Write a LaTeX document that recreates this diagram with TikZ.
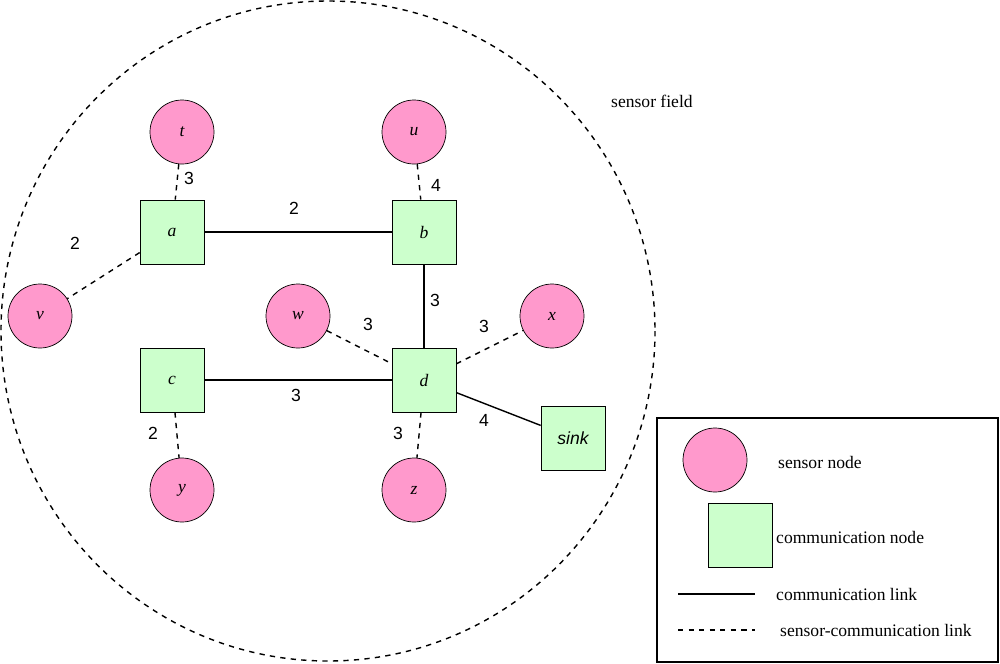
\documentclass[tikz,border=0pt]{standalone}
\usepackage{fontspec}
\setmainfont{Liberation Serif}
\newfontfamily\numfont{Liberation Sans}
\begin{document}
\begin{tikzpicture}[x=0.02cm,y=-0.02cm,
  sensor/.style={circle,draw,fill=pink1,minimum size=64*0.02cm,inner sep=0pt,font=\itshape},
  comm/.style={rectangle,draw,fill=green1,minimum size=64*0.02cm,inner sep=0pt,font=\itshape},
  clink/.style={draw,thick},
  slink/.style={draw,thick,dashed},
  num/.style={font=\numfont}]
\definecolor{pink1}{HTML}{FF99CC}
\definecolor{green1}{HTML}{CCFFCC}
\useasboundingbox (0,0) rectangle (1000,663);
% sensor field
\draw[thick,dashed] (328,331) ellipse [x radius=327,y radius=330];
\node[anchor=west] (field) at (605,101) {sensor field};
% nodes
\node[sensor] (t) at (182,132) {t};
\node[sensor] (u) at (414,132) {u};
\node[sensor] (v) at (40,316) {v};
\node[sensor] (w) at (298,316) {w};
\node[sensor] (x) at (552,316) {x};
\node[sensor] (y) at (182,490) {y};
\node[sensor] (z) at (414,490) {z};
\node[comm] (a) at (172,232) {a};
\node[comm] (b) at (424,232) {b};
\node[comm] (c) at (172,380) {c};
\node[comm] (d) at (424,380) {d};
\node[comm,font=\numfont\itshape] (sink) at (573,438) {sink};
% links
\draw[clink] (a) -- (b);
\draw[clink] (b) -- (d);
\draw[clink] (c) -- (d);
\draw[clink] (d) -- (sink);
\draw[slink] (t) -- (a);
\draw[slink] (u) -- (b);
\draw[slink] (a) -- (v);
\draw[slink] (w) -- (d);
\draw[slink] (d) -- (x);
\draw[slink] (c) -- (y);
\draw[slink] (d) -- (z);
% weights
\node[num] (l1) at (189,178) {3};
\node[num] (l2) at (436,185) {4};
\node[num] (l3) at (75,243) {2};
\node[num] (l4) at (294,208) {2};
\node[num] (l5) at (435,300) {3};
\node[num] (l6) at (368,324) {3};
\node[num] (l7) at (484,326) {3};
\node[num] (l8) at (296,395) {3};
\node[num] (l9) at (484,420) {4};
\node[num] (l10) at (153,433) {2};
\node[num] (l11) at (398,433) {3};
% legend
\draw[thick] (657,418) rectangle (998,662);
\node[sensor] (ls) at (715,460) {};
\node[comm] (lc) at (740,535) {};
\coordinate (cl1) at (678,594);
\coordinate (cl2) at (755,594);
\coordinate (sl1) at (678,630);
\coordinate (sl2) at (755,630);
\draw[clink] (cl1) -- (cl2);
\draw[slink] (sl1) -- (sl2);
\node[anchor=west] (t1) at (772,462) {sensor node};
\node[anchor=west] (t2) at (770,537) {communication node};
\node[anchor=west] (t3) at (770,594) {communication link};
\node[anchor=west] (t4) at (774,630) {sensor-communication link};
\end{tikzpicture}
\end{document}
